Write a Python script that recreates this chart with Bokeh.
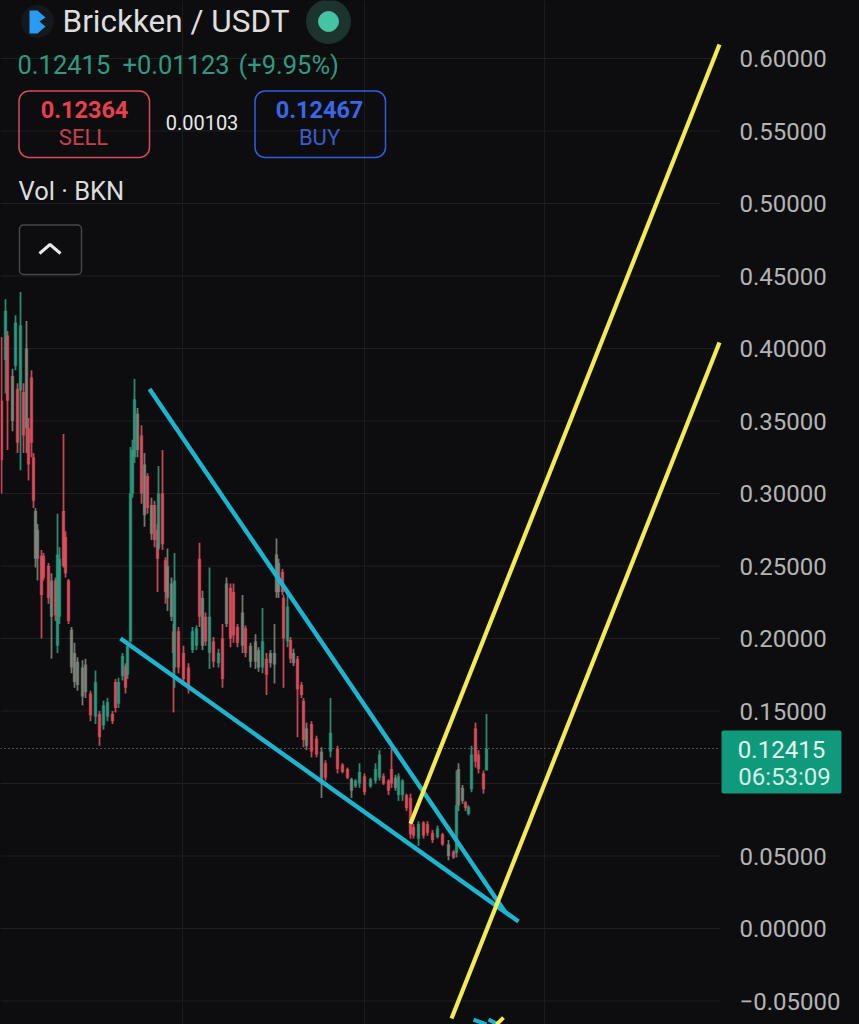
from bokeh.plotting import figure
from bokeh.models import (Range1d, Label, BoxAnnotation,
                          GlobalInlineStyleSheet, ColumnDataSource)
from bokeh.embed import file_html
from bokeh.resources import INLINE

# ---------- data ----------
bar_x = [1,5,7,12,15,17,20,23,26,28,31,33,35,37,41,43,48,51,55,57,59,63,65,68,71,74,77,82,85,90,95,99,103,107,112,115,118,122,125,127,130,132,134,137,141,144,147,151,154,157,158,162,165,167,171,173,174,178,183,188,192,196,199,202,205,209,213,218,222,226,230,233,237,242,245,250,255,258,262,266,270,274,276,278,282,283,287,290,293,297,301,303,306,311,316,321,325,330,337,342,347,351,355,359,364,370,375,379,383,388,391,395,398,402,406,410,413,418,423,427,432,437,442,448,453,456,458,462,465,468,471,475,478,483,486]
high = [.408,.434,.412,.386,.423,.376,.439,.376,.419,.352,.385,.328,.290,.279,.261,.259,.252,.245,.242,.286,.263,.341,.274,.241,.208,.197,.187,.185,.186,.164,.178,.150,.157,.159,.150,.172,.173,.190,.183,.197,.332,.337,.379,.359,.347,.328,.314,.297,.295,.279,.319,.330,.256,.262,.242,.210,.259,.208,.195,.183,.208,.209,.266,.233,.218,.249,.201,.193,.210,.242,.238,.238,.210,.230,.209,.197,.203,.194,.221,.190,.192,.210,.269,.255,.248,.230,.231,.201,.193,.188,.170,.159,.142,.143,.133,.125,.116,.159,.126,.114,.111,.104,.103,.114,.107,.104,.114,.123,.107,.103,.128,.106,.107,.103,.093,.093,.072,.074,.074,.074,.068,.071,.066,.061,.054,.109,.114,.099,.088,.085,.126,.142,.123,.109,.148]
low = [.300,.369,.330,.343,.385,.328,.316,.328,.328,.309,.325,.290,.249,.240,.200,.240,.224,.186,.212,.190,.210,.249,.242,.210,.176,.166,.164,.154,.159,.143,.141,.126,.137,.143,.141,.149,.152,.171,.162,.172,.197,.297,.321,.325,.293,.277,.286,.268,.263,.232,.261,.261,.224,.219,.212,.149,.166,.176,.169,.162,.190,.192,.208,.192,.195,.179,.180,.180,.166,.208,.194,.197,.194,.190,.187,.180,.179,.177,.176,.161,.180,.169,.228,.228,.230,.166,.194,.183,.181,.132,.159,.125,.123,.118,.118,.090,.102,.118,.107,.107,.103,.090,.097,.097,.092,.097,.100,.102,.099,.092,.097,.095,.088,.088,.081,.062,.062,.057,.062,.064,.059,.062,.057,.047,.048,.049,.081,.086,.081,.078,.094,.111,.107,.093,.109]
open_ = [.364,.392,.409,.350,.388,.372,.371,.370,.345,.345,.380,.325,.288,.255,.257,.257,.250,.215,.240,.195,.215,.288,.270,.240,.206,.170,.184,.160,.182,.162,.146,.148,.140,.146,.148,.170,.155,.174,.181,.175,.198,.300,.325,.355,.340,.285,.312,.272,.292,.275,.262,.300,.254,.228,.238,.205,.180,.205,.190,.180,.192,.195,.255,.195,.215,.190,.198,.183,.200,.210,.235,.232,.208,.195,.207,.195,.184,.192,.180,.186,.183,.182,.232,.232,.246,.228,.198,.199,.183,.186,.168,.157,.126,.141,.131,.100,.114,.122,.124,.113,.110,.095,.098,.100,.105,.098,.102,.104,.105,.102,.110,.097,.092,.092,.092,.090,.070,.062,.073,.072,.066,.063,.065,.050,.053,.052,.085,.097,.087,.079,.096,.138,.120,.107,.109]
close = [.323,.426,.364,.381,.418,.335,.416,.340,.400,.320,.335,.295,.255,.275,.230,.242,.228,.240,.216,.258,.255,.250,.245,.212,.180,.190,.168,.180,.163,.147,.170,.132,.154,.156,.143,.152,.170,.188,.166,.195,.300,.330,.365,.330,.300,.320,.290,.292,.268,.255,.300,.265,.232,.250,.215,.190,.240,.180,.172,.165,.205,.207,.215,.228,.198,.215,.184,.190,.172,.238,.200,.202,.197,.218,.190,.184,.198,.180,.198,.175,.190,.190,.258,.252,.232,.200,.222,.186,.190,.165,.161,.130,.138,.122,.120,.122,.104,.135,.110,.108,.104,.103,.102,.108,.094,.103,.110,.120,.100,.095,.100,.104,.105,.102,.083,.065,.064,.072,.064,.066,.061,.069,.058,.058,.049,.085,.110,.088,.083,.084,.120,.115,.110,.096,.124]
# bars whose red and green blur together to grey in the photographed screen
grey_bars = [12,26,35,37,51,71,74,77,82,85,137,144,151,167,171,202,226,242,250,255,258,270,274,276,278,293,306,321,351,395,448,458,462]

wedge_upper_x = [149, 505]
wedge_upper_y = [.372, .011]
wedge_lower_x = [120, 518]
wedge_lower_y = [.200, .0048]
channel_upper_x = [410, 719]
channel_upper_y = [.0723, .6097]
channel_lower_x = [451, 719]
channel_lower_y = [-.0621, .4041]
stray_cyan_x = [[473, 486], [488, 498]]
stray_cyan_y = [[-.0628, -.0662], [-.0628, -.0662]]
stray_yellow_x = [496, 503]
stray_yellow_y = [-.0662, -.0615]

price_ticks = [.60, .55, .50, .45, .40, .35, .30, .25, .20, .15, .05, 0.0, -.05]
price_tick_labels = ["0.60000", "0.55000", "0.50000", "0.45000", "0.40000", "0.35000", "0.30000",
                     "0.25000", "0.20000", "0.15000", "0.05000", "0.00000", "\u22120.05000"]
grid_prices = [.60, .55, .50, .45, .40, .35, .30, .25, .20, .15, .10, .05, 0.0, -.05]
time_grid = [182, 364, 544]
last_price = 0.12415

BG = "#0d0d0f"
UP, DOWN, GREY = "#2f9e84", "#e4505f", "#84897f"
FONT = "Roboto"
PRICE_SCALE_LEFT = 720


def Y(ref_y):
    """Page-row of the photographed screen to the price scale (chrome placement only)."""
    return (928 - ref_y) / 1450


p = figure(width=859, height=1024, output_backend="svg", toolbar_location=None,
           x_range=Range1d(0, 859), y_range=Range1d(Y(1024), Y(0)),
           x_axis_location=None, y_axis_location=None,
           background_fill_color=BG, border_fill_color=BG, outline_line_color=None,
           min_border_left=0, min_border_top=0, min_border_bottom=0, min_border_right=0)
p.stylesheets = [GlobalInlineStyleSheet(css=f"html,body{{background:{BG};overflow:hidden}}")]
p.grid.visible = False

# grid stops where the price scale begins
p.segment([0] * len(grid_prices), grid_prices, [PRICE_SCALE_LEFT] * len(grid_prices), grid_prices,
          line_color="#1f1f21", line_width=1)
p.segment(time_grid, [Y(0)] * len(time_grid), time_grid, [Y(1024)] * len(time_grid),
          line_color="#1b1b1d", line_width=1)
p.line([0, PRICE_SCALE_LEFT], [last_price, last_price], line_color="#7d9c92",
       line_dash="1 3", line_width=1.2)

colors = [GREY if x in grey_bars else (UP if c >= o else DOWN)
          for x, o, c in zip(bar_x, open_, close)]
src = ColumnDataSource(dict(x=bar_x, high=high, low=low,
                            top=[max(a, b) for a, b in zip(open_, close)],
                            bottom=[min(a, b) for a, b in zip(open_, close)],
                            color=colors))
p.segment("x", "high", "x", "low", source=src, color="color", line_width=1.8, line_alpha=0.85)
p.vbar("x", 3.4, "top", "bottom", source=src, color="color", line_color=None, fill_alpha=0.72)

p.line(wedge_upper_x, wedge_upper_y, line_color="#1db4cf", line_width=4.4)
p.line(wedge_lower_x, wedge_lower_y, line_color="#1db4cf", line_width=4.4)
p.line(channel_upper_x, channel_upper_y, line_color="#f4ea55", line_width=4.2)
p.line(channel_lower_x, channel_lower_y, line_color="#f4ea55", line_width=4.2)
p.multi_line(stray_cyan_x, stray_cyan_y, line_color="#1db4cf", line_width=4)
p.line(stray_yellow_x, stray_yellow_y, line_color="#f4ea55", line_width=4)


def box(l, r, t, b, line=None, fill=None, radius=0, width=1.5):
    p.add_layout(BoxAnnotation(left=l, right=r, top=Y(t), bottom=Y(b), level="annotation",
                               fill_color=fill, fill_alpha=1 if fill else 0,
                               line_color=line, line_width=width, line_alpha=1 if line else 0,
                               border_radius=radius))


def lab(x, y, s, size, color, align="left", bold=False):
    p.add_layout(Label(x=x, y=y, text=s, text_font=FONT, text_font_size=f"{size}px",
                       text_color=color, text_align=align, text_baseline="middle",
                       text_font_style="bold" if bold else "normal", level="annotation"))


# price scale
for tick, tick_label in zip(price_ticks, price_tick_labels):
    lab(739, tick, tick_label, 24, "#b4b4b4")

# header: logo, status light
p.scatter([37], [Y(21)], size=32, color="#15191d")
p.patch([29, 37, 45, 39, 45, 37, 29], [Y(v) for v in [10, 10, 17, 21, 26, 33, 33]],
        fill_color="#2a9bf0", line_color=None)
p.scatter([328], [Y(21)], size=44, color="#1c332e")
p.scatter([328], [Y(21)], size=20, color="#45c4a4")

lab(62, Y(21), "Brickken / USDT", 31.5, "#dedede")
lab(17, Y(64), "0.12415", 25.5, "#2f9a80")
lab(122, Y(64), "+0.01123", 25.5, "#2f9a80")
lab(238, Y(64), "(+9.95%)", 25.5, "#2f9a80")

box(18.5, 149, 90.5, 157, line="#d9485c", radius=10)
lab(84, Y(109), "0.12364", 23.5, "#e6404f", "center", True)
lab(83, Y(137), "SELL", 22, "#c4404f", "center")
lab(201.5, Y(122), "0.00103", 20, "#e8e8e8", "center")
box(254.5, 385, 90.5, 157, line="#2f5fe0", radius=10)
lab(319, Y(109), "0.12467", 23.5, "#3a66e8", "center", True)
lab(319, Y(137), "BUY", 22, "#3a5cc8", "center")

lab(18, Y(190), "Vol \u00b7 BKN", 25.5, "#dcdcdc")
box(19, 81, 224.5, 274, line="#47474a", radius=4)
p.line([39, 49.5, 60], [Y(253), Y(244), Y(253)], line_color="#e8e8e8", line_width=3)

# last-price tag
box(721, 841, 730, 793, fill="#0f9a7c", radius=2)
lab(781, Y(748.5), "0.12415", 24, "#e6f7f2", "center")
lab(784, Y(776), "06:53:09", 24, "#d5efe8", "center")

open("out.html", "w").write(file_html(p, INLINE))
